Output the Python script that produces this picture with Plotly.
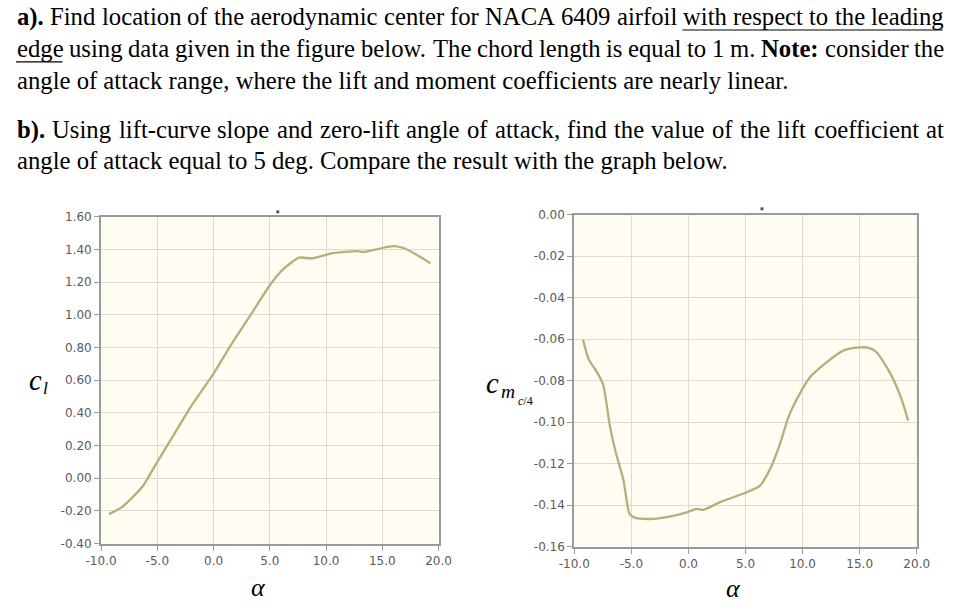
import plotly.graph_objects as go

# ---------------- data ----------------
alpha_cl = [-9.3, -8.2, -7.1, -6.2, -5.0, -3.5, -2.0, -0.0, 1.5, 3.3, 5.1, 6.2, 7.6, 8.8, 10.4, 12.8, 13.3, 16.0, 17.2, 19.3]
cl = [-0.22, -0.18, -0.11, -0.04, 0.10, 0.27, 0.44, 0.64, 0.81, 1.00, 1.19, 1.28, 1.35, 1.345, 1.375, 1.39, 1.385, 1.42, 1.40, 1.315]

alpha_cm = [-9.24, -8.75, -8.0, -7.49, -7.2, -6.91, -6.41, -5.69, -5.16, -4.66, -3.06, -1.6, -0.14, 0.73, 1.31, 2.77,
            5.11, 6.27, 7.29, 8.02, 8.75, 9.3, 10.65, 12.1, 13.56, 14.73, 15.75, 16.48, 17.64, 18.67, 19.25]
cm = [-0.0602, -0.0695, -0.076, -0.0816, -0.090, -0.1009, -0.1137, -0.128, -0.1443, -0.1462, -0.1467, -0.1455, -0.1435,
      -0.1418, -0.1423, -0.1386, -0.1338, -0.1306, -0.121, -0.1105, -0.0977, -0.091, -0.0784, -0.0712, -0.0655, -0.0641,
      -0.0641, -0.0663, -0.076, -0.0889, -0.0993]

x_ticks = [-10, -5, 0, 5, 10, 15, 20]
x_ticklabels = ["-10.0", "-5.0", "0.0", "5.0", "10.0", "15.0", "20.0"]
cl_ticks = [-0.4, -0.2, 0.0, 0.2, 0.4, 0.6, 0.8, 1.0, 1.2, 1.4, 1.6]
cl_ticklabels = ["-0.40", "-0.20", "0.00", "0.20", "0.40", "0.60", "0.80", "1.00", "1.20", "1.40", "1.60"]
cm_ticks = [-0.16, -0.14, -0.12, -0.10, -0.08, -0.06, -0.04, -0.02, 0.0]
cm_ticklabels = ["-0.16", "-0.14", "-0.12", "-0.10", "-0.08", "-0.06", "-0.04", "-0.02", "0.00"]

# problem text: (words, justified?, baseline_px); words marked "*" are bold, "_" underlined
text_lines = [
    ("*a). Find location of the aerodynamic center for NACA 6409 airfoil _with _respect _to _the _leading", True, 24),
    ("_edge using data given in the figure below. The chord length is equal to 1 m. *Note: consider the", True, 56),
    ("angle of attack range, where the lift and moment coefficients are nearly linear.", False, 88),
    ("*b). Using lift-curve slope and zero-lift angle of attack, find the value of the lift coefficient at", True, 137),
    ("angle of attack equal to 5 deg. Compare the result with the graph below.", False, 168),
]

# ---------------- geometry helpers (reference pixel -> paper) ----------------
W, H = 980, 612
SX, OX = 0.972, 14.8
SY, OY = 0.978, 6.0
def PX(sx):
    return (sx - OX) / SX
def PY(sy):
    return (sy - OY) / SY
def fx(sx):
    return PX(sx) / W
def fy(sy):
    return 1 - PY(sy) / H
def dom_x(a, b):
    return [fx(a), fx(b)]
def dom_y(top, bottom):
    return [fy(bottom), fy(top)]

# Times / Liberation Serif advance widths (1/1000 em)
REG = {' ': 250, '(': 333, ')': 333, ',': 250, '-': 333, '.': 250, '/': 278, ':': 278,
       'A': 722, 'C': 667, 'N': 722, 'T': 611, 'U': 722, 'F': 556,
       'a': 444, 'b': 500, 'c': 444, 'd': 500, 'e': 444, 'f': 333, 'g': 500, 'h': 500, 'i': 278, 'j': 278,
       'k': 500, 'l': 278, 'm': 778, 'n': 500, 'o': 500, 'p': 500, 'q': 500, 'r': 333, 's': 389, 't': 278,
       'u': 500, 'v': 500, 'w': 722, 'x': 500, 'y': 500, 'z': 444}
BOLD = {' ': 250, '(': 333, ')': 333, '.': 250, ':': 333, 'N': 722, 'a': 500, 'b': 556, 'e': 444, 'o': 500, 't': 333}
def width_em(word, bold):
    tbl = BOLD if bold else REG
    return sum(tbl.get(ch, 500 if ch.isdigit() else 480) for ch in word) / 1000.0

FS_TEXT = 24.7          # plotly px
TEXT_LEFT = 0.0         # plotly px
TEXT_RIGHT = PX(945) - 2  # plotly px
WIDTH_FUDGE = 1.025     # rendered words come out slightly wider than the nominal metrics

LINE_COLOR = "#b5b07a"
PLOT_BG = "#fffcf1"
GRID = "#dddad2"
AXIS = "#9a9a9a"
TICKFONT = dict(family="DejaVu Sans", size=12, color="#5a5a5a")

fig = go.Figure()
fig.add_trace(go.Scatter(x=alpha_cl, y=cl, mode="lines", line=dict(color=LINE_COLOR, width=2.3, shape="spline", smoothing=0.6),
                         xaxis="x", yaxis="y", hoverinfo="skip"))
fig.add_trace(go.Scatter(x=alpha_cm, y=cm, mode="lines", line=dict(color=LINE_COLOR, width=2.3, shape="spline", smoothing=0.6),
                         xaxis="x2", yaxis="y2", hoverinfo="skip"))

def xax(domain, anchor):
    return dict(domain=domain, anchor=anchor, range=[-10, 20], tickvals=x_ticks, ticktext=x_ticklabels,
                showgrid=True, gridcolor=GRID, gridwidth=1, zeroline=False, showline=True, linecolor=AXIS,
                linewidth=2, mirror=True, ticks="outside", ticklen=5, tickcolor=AXIS, tickwidth=1,
                tickfont=TICKFONT, fixedrange=True)

def yax(domain, anchor, rng, tv, tt):
    return dict(domain=domain, anchor=anchor, range=rng, tickvals=tv, ticktext=tt,
                showgrid=True, gridcolor=GRID, gridwidth=1, zeroline=False, showline=True, linecolor=AXIS,
                linewidth=2, mirror=True, ticks="outside", ticklen=5, tickcolor=AXIS, tickwidth=1,
                tickfont=TICKFONT, fixedrange=True)

fig.update_layout(
    width=W, height=H, margin=dict(l=0, r=0, t=0, b=0),
    paper_bgcolor="white", plot_bgcolor=PLOT_BG, showlegend=False,
    xaxis=xax(dom_x(100, 438), "y"),
    yaxis=yax(dom_y(216, 543), "x", [-0.4, 1.6], cl_ticks, cl_ticklabels),
    xaxis2=xax(dom_x(574, 917), "y2"),
    yaxis2=yax(dom_y(214, 546), "x2", [-0.16, 0.0], cm_ticks, cm_ticklabels),
)

ann = []
shapes = []
serif = dict(family="Liberation Serif", color="black")
for line, justified, base in text_lines:
    center_s = base - 0.3375 * FS_TEXT * SY     # screen y of text box centre
    yy = fy(center_s)
    if not justified:
        ann.append(dict(text=line, x=TEXT_LEFT / W, y=yy, xref="paper", yref="paper", xanchor="left",
                        yanchor="middle", borderpad=0, showarrow=False, font=dict(size=FS_TEXT, **serif)))
        continue
    toks = line.split(" ")
    words = []
    for t in toks:
        bold = t.startswith("*")
        und = t.startswith("_")
        w = t.lstrip("*_")
        words.append((w, bold, und, width_em(w, bold) * FS_TEXT * WIDTH_FUDGE))
    total = sum(w[3] for w in words)
    gap = (TEXT_RIGHT - TEXT_LEFT - total) / (len(words) - 1)
    x = TEXT_LEFT
    und_start = und_end = None
    for w, bold, und, wd in words:
        txt = "<b>%s</b>" % w if bold else w
        ann.append(dict(text=txt, x=x / W, y=yy, xref="paper", yref="paper", xanchor="left", yanchor="middle",
                        borderpad=0, showarrow=False, font=dict(size=FS_TEXT, **serif)))
        if und:
            if und_start is None:
                und_start = x
            und_end = x + wd
        x += wd + gap
    if und_start is not None:
        uy = fy(base + 5)
        shapes.append(dict(type="line", xref="paper", yref="paper", x0=und_start / W, x1=und_end / W,
                           y0=uy, y1=uy, line=dict(color="black", width=1.2)))

# axis titles
def lab(text, sx, sy, size):
    ann.append(dict(text=text, x=fx(sx), y=fy(sy), xref="paper", yref="paper", xanchor="center", yanchor="middle",
                    showarrow=False, font=dict(size=size, **serif)))
lab("<i>c</i>", 34, 380, 28.5)
lab("<i>l</i>", 44, 387, 17.5)
lab("<i>c</i>", 492, 383, 28.5)
lab("<i>m</i>", 508, 391, 19.5)
lab("<i>c</i>/4", 525, 400, 12)
lab("<i>α</i>", 258, 587, 26)
lab("<i>α</i>", 733, 588, 26)

# small dots above the charts
for dx, dy in ((277, 211), (762, 208)):
    shapes.append(dict(type="rect", xref="paper", yref="paper", x0=fx(dx - 1.5), x1=fx(dx + 1.5),
                       y0=fy(dy + 1.5), y1=fy(dy - 1.5), fillcolor="#555", line=dict(width=0)))

fig.update_layout(annotations=ann, shapes=shapes)
fig.write_html("out.html")
